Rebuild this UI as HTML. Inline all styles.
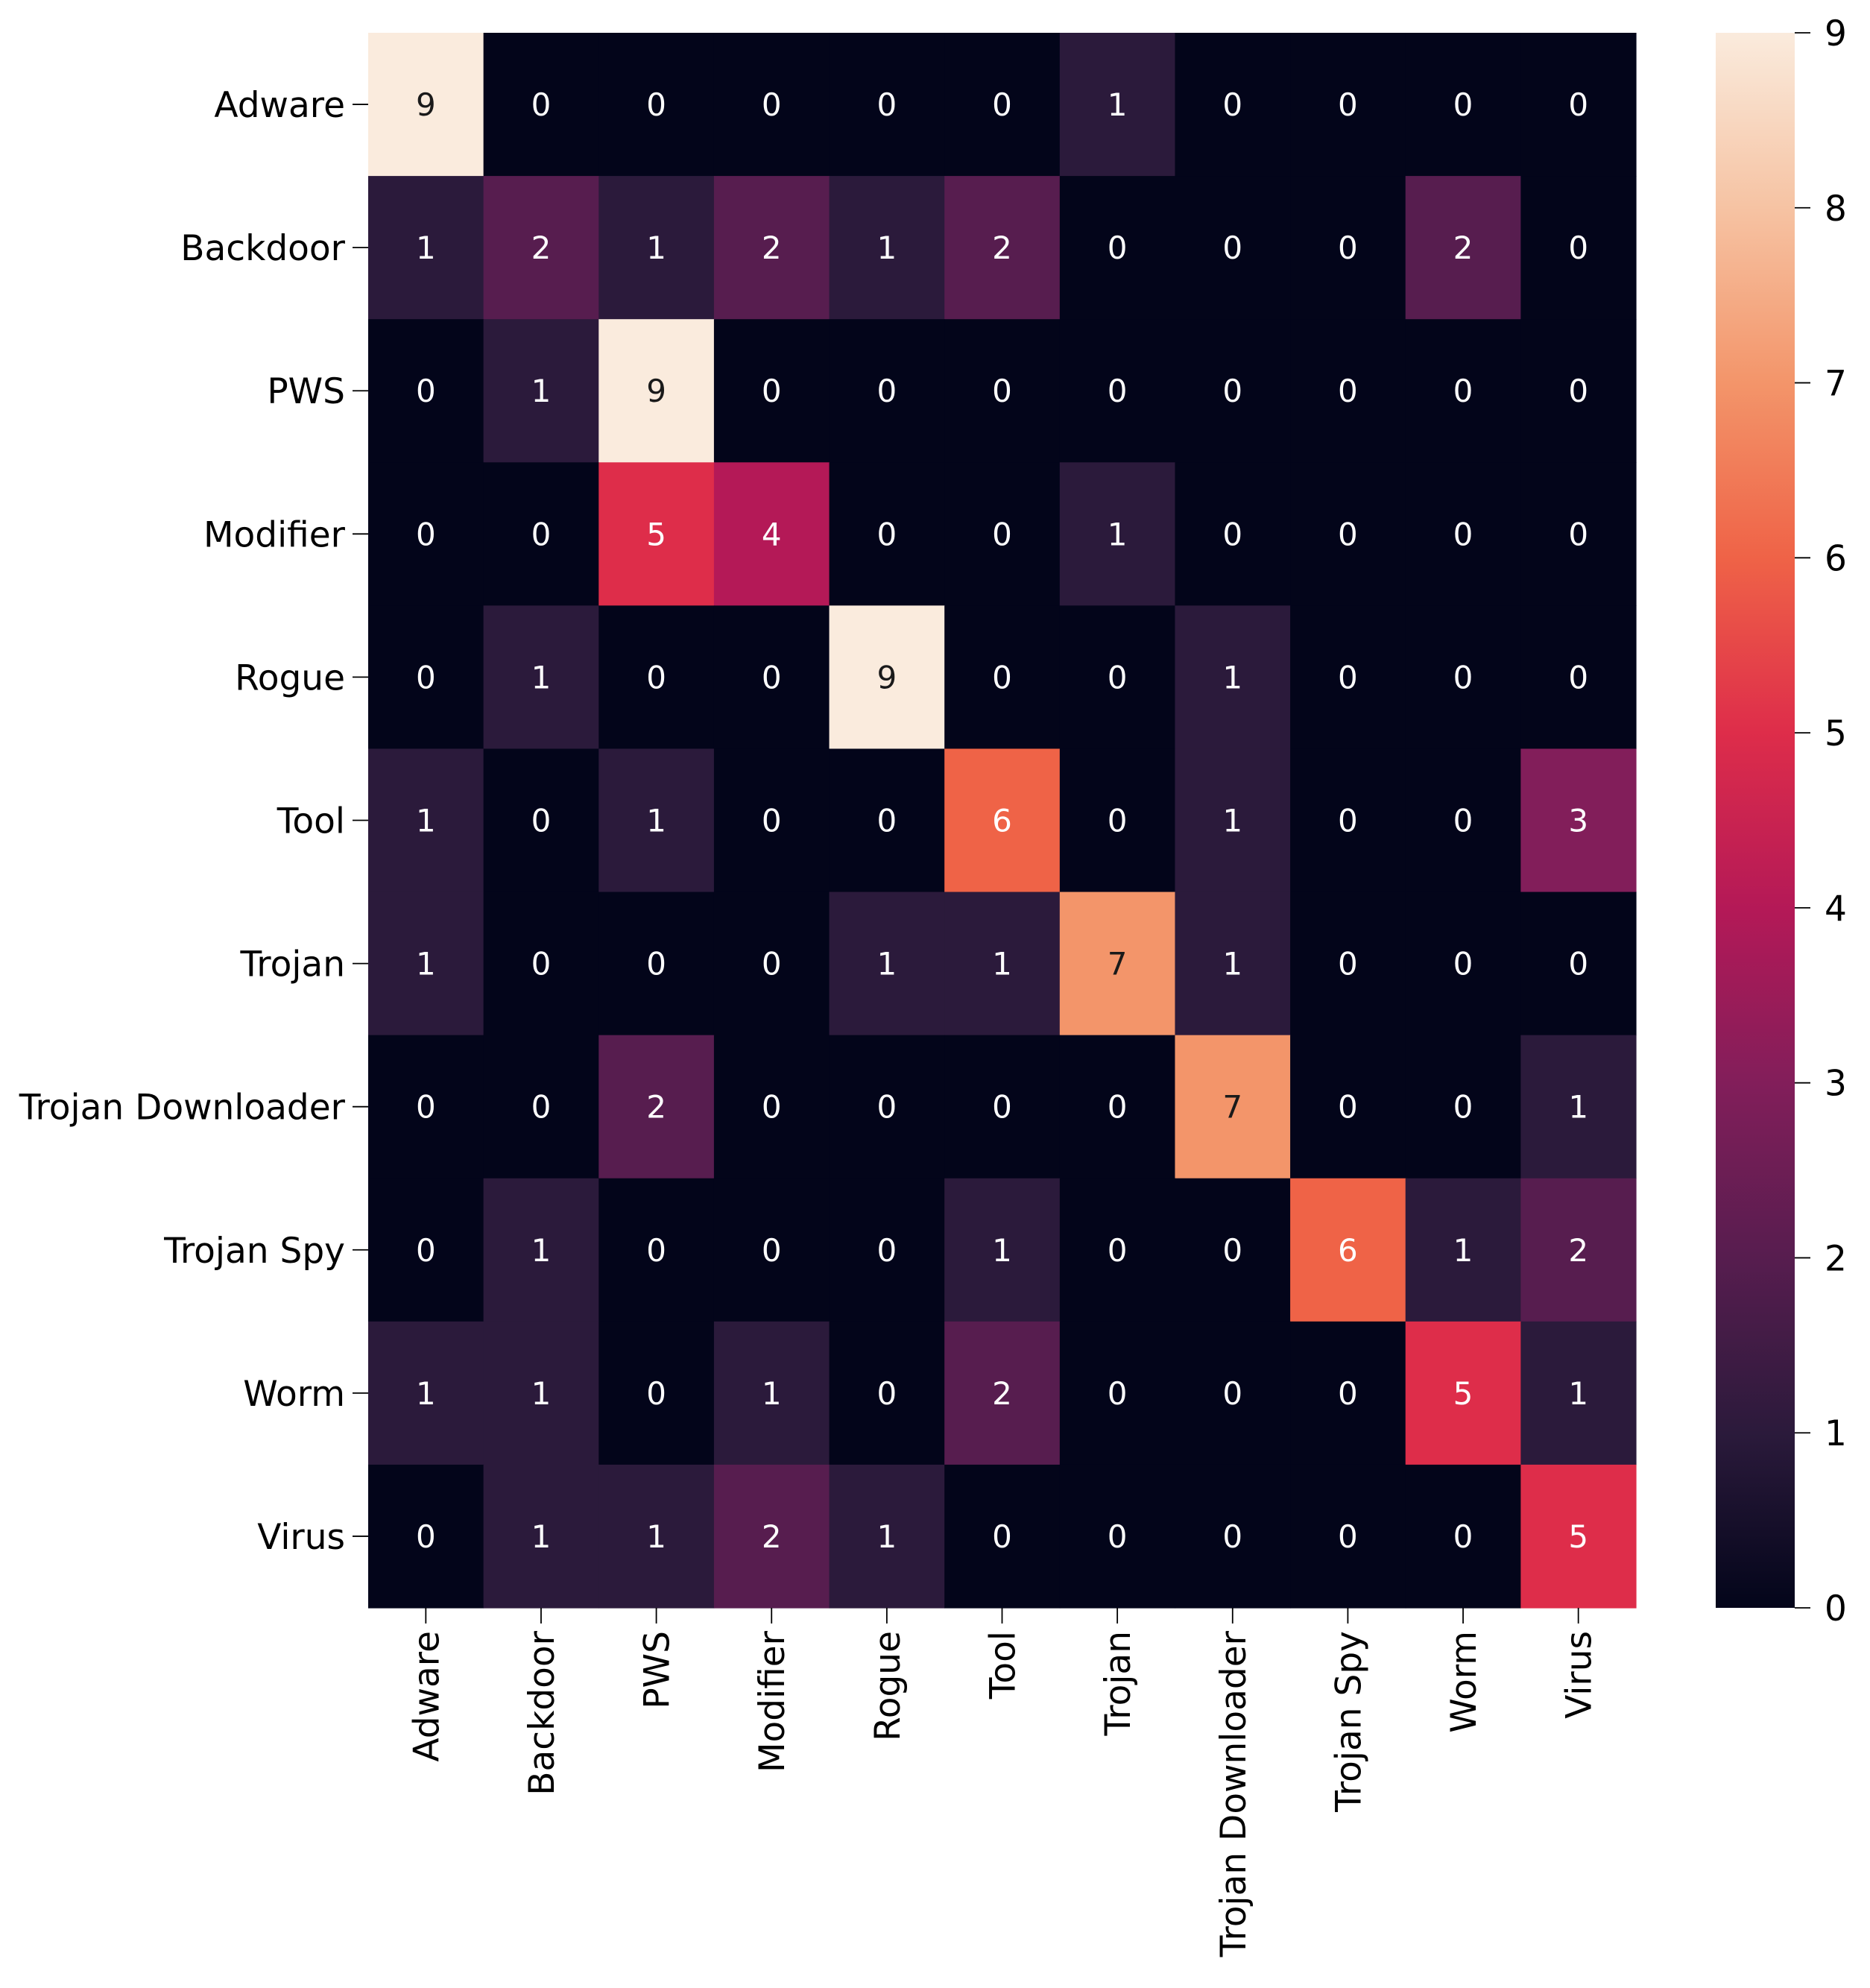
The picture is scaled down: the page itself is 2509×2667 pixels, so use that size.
<!DOCTYPE html>
<html><head><meta charset="utf-8"><style>
html,body{margin:0;padding:0;background:#fff;}
svg{display:block;font-family:"DejaVu Sans","Liberation Sans",sans-serif;}
</style></head><body>
<svg id="chart" width="2509" height="2667" viewBox="0 0 2509 2667" xmlns="http://www.w3.org/2000/svg">
<defs>
<linearGradient id="rocket" x1="0" y1="1" x2="0" y2="0">
<stop offset="0" stop-color="#03051a"/><stop offset="0.111" stop-color="#2b1a3b"/>
<stop offset="0.222" stop-color="#571d4f"/><stop offset="0.333" stop-color="#821e5a"/>
<stop offset="0.444" stop-color="#b41957"/><stop offset="0.556" stop-color="#de2d4a"/>
<stop offset="0.667" stop-color="#ef6347"/><stop offset="0.778" stop-color="#f3956a"/>
<stop offset="0.889" stop-color="#f6c3a3"/><stop offset="1" stop-color="#faebdd"/>
</linearGradient>
</defs>
<g id="cells"></g>
<g id="yax"></g>
<g id="xax"></g>
<g id="cbar"></g>
</svg>
<script>
const labels = ["Adware","Backdoor","PWS","Modifier","Rogue","Tool","Trojan","Trojan Downloader","Trojan Spy","Worm","Virus"];
const matrix = [
[9,0,0,0,0,0,1,0,0,0,0],
[1,2,1,2,1,2,0,0,0,2,0],
[0,1,9,0,0,0,0,0,0,0,0],
[0,0,5,4,0,0,1,0,0,0,0],
[0,1,0,0,9,0,0,1,0,0,0],
[1,0,1,0,0,6,0,1,0,0,3],
[1,0,0,0,1,1,7,1,0,0,0],
[0,0,2,0,0,0,0,7,0,0,1],
[0,1,0,0,0,1,0,0,6,1,2],
[1,1,0,1,0,2,0,0,0,5,1],
[0,1,1,2,1,0,0,0,0,0,5]];
const cbTicks = [0,1,2,3,4,5,6,7,8,9];
const palette = ["#03051a","#2b1a3b","#571d4f","#821e5a","#b41957","#de2d4a","#ef6347","#f3956a","#f6c3a3","#faebdd"];

const NS="http://www.w3.org/2000/svg";
const L=494,T=44,R=2195,B=2157,vmin=0,vmax=9;
const n=labels.length, cw=(R-L)/n, ch=(B-T)/n;
const xs=i=>L+i*cw, ys=i=>T+i*ch;
const cbL=2302,cbR=2408, cbY=v=>B-(v-vmin)/(vmax-vmin)*(B-T);
function mk(tag,attrs,parent){const e=document.createElementNS(NS,tag);for(const k in attrs)e.setAttribute(k,attrs[k]);parent.appendChild(e);return e;}
function color(v){const t=(v-vmin)/(vmax-vmin)*9;const i=Math.max(0,Math.min(9,Math.round(t)));return palette[i];}
const cells=document.getElementById('cells');
matrix.forEach((row,r)=>row.forEach((v,c)=>{
  const rect=mk('rect',{x:xs(c),y:ys(r),width:cw+0.6,height:ch+0.6,fill:color(v)},cells);
  
  
  const tx=mk('text',{x:xs(c)+cw/2,y:ys(r)+ch/2+15,'text-anchor':'middle','font-size':42,fill:(v>=7?'#1a1a1a':'#ffffff')},cells);
  tx.textContent=v;
  
  
}));
const yax=document.getElementById('yax'), xax=document.getElementById('xax');
labels.forEach((lab,i)=>{
  const yc=ys(i)+ch/2;
  const tk=mk('line',{x1:L-21,x2:L,y1:yc,y2:yc,stroke:'#000','stroke-width':1.8},yax);
  
  
  const t=mk('text',{x:L-31,y:yc+17,'text-anchor':'end','font-size':47,fill:'#000'},yax);
  t.textContent=lab;
  
  
  const xc=xs(i)+cw/2;
  const tk2=mk('line',{x1:xc,x2:xc,y1:B,y2:B+21,stroke:'#000','stroke-width':1.8},xax);
  
  
  const t2=mk('text',{x:0,y:0,'text-anchor':'end','font-size':47,fill:'#000',transform:`translate(${xc+17},${B+31}) rotate(-90)`},xax);
  t2.textContent=lab;
  
  
});
const cb=document.getElementById('cbar');
const bar=mk('rect',{x:cbL,y:T,width:cbR-cbL,height:B-T,fill:'url(#rocket)'},cb);


cbTicks.forEach(v=>{
  const y=cbY(v);
  const tk=mk('line',{x1:cbR,x2:cbR+21,y1:y,y2:y,stroke:'#000','stroke-width':1.8},cb);
  
  
  const t=mk('text',{x:cbR+40,y:y+17,'font-size':47,fill:'#000'},cb);
  t.textContent=v;
  
  
});
</script>
</body></html>
